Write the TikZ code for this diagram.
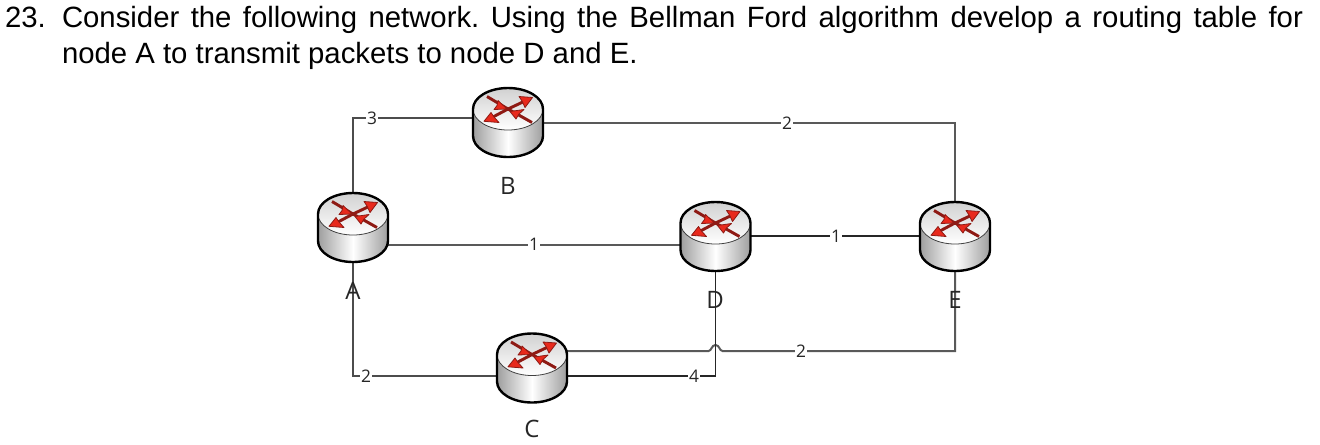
\documentclass[tikz,border=0pt]{standalone}
\usepackage{fontspec}
\usetikzlibrary{calc}
\setmainfont{Liberation Sans}
\newfontfamily\netfont{Open Sans}
\definecolor{rdark}{HTML}{8E1A14}
\definecolor{rred}{HTML}{E8291C}
\frenchspacing
\tikzset{
  x=0.75pt,y=-0.75pt,
  every node/.style={inner sep=0pt,outer sep=0pt},
  titletext/.style={anchor=base west,font=\fontsize{22pt}{24pt}\selectfont,text=black},
  router/.style={minimum width=52.5pt,minimum height=51.75pt,draw=none},
  heavy/.style={draw=black!65,line width=1.5pt},
  medium/.style={draw=black!70,line width=1.2pt},
  thin line/.style={draw=black!85,line width=0.95pt},
  weight/.style={fill=white,font=\netfont\fontsize{13pt}{14pt}\selectfont,text=black!85,inner xsep=0.8pt,inner ysep=0pt},
  routername/.style={font=\netfont\fontsize{18pt}{20pt}\selectfont,text=black!85},
  shaft/.style={draw=rdark,line width=2.2pt},
  head/.style={fill=rred,draw=rdark,line width=0.6pt,line join=round},
  pics/routericon/.style={code={
    \shade[left color=black!38,right color=black!38,middle color=white]
      (-35,-13.5) -- (-35,13.5) arc[start angle=180,end angle=0,x radius=35,y radius=21]
      -- (35,-13.5) -- cycle;
    \shade[top color=black!18,bottom color=white]
      (0,-13.5) ellipse[x radius=35,y radius=21];
    \draw[black!75,line width=0.6pt] (-35,-13.5) arc[start angle=180,end angle=0,x radius=35,y radius=21];
    \draw[black,line width=1.8pt] (-35,-13.5) -- (-35,13.5) arc[start angle=180,end angle=0,x radius=35,y radius=21]
      -- (35,-13.5) arc[start angle=0,end angle=-180,x radius=35,y radius=21] -- cycle;
    \draw[shaft] (-21,-26) -- (0,-13.5);
    \draw[shaft] (0,-13.5) -- (18,-22);
    \draw[shaft] (0,-13.5) -- (-16,-5);
    \draw[shaft] (24,0) -- (0,-13.5);
    \fill[head] (-1,-13.5) -- (-10,-22) -- (-11,-17) -- (-14,-13) -- cycle;
    \fill[head] (24.5,-25) -- (11,-26) -- (14,-21.5) -- (17,-15) -- cycle;
    \fill[head] (-24,-1.2) -- (-17,-10) -- (-14,-5.5) -- (-9,0) -- cycle;
    \fill[head] (2,-11) -- (16,-13) -- (11,-8.5) -- (8,-3.5) -- cycle;
  }},
}
\begin{document}
\begin{tikzpicture}
\useasboundingbox (0,0) rectangle (1320,444);
% title
\node[titletext] (num) at (5,27) {23.};
\node[titletext] (line1) at (62,27) {\makebox[930.75pt][s]{Consider the following network. Using the Bellman Ford algorithm develop a routing table for}};
\node[titletext] (line2) at (62,63.5) {node A to transmit packets to node D and E.};
% routers (placement nodes)
\node[router] (A) at (353,227.5) {};
\node[router] (B) at (508,122.5) {};
\node[router] (C) at (532,368) {};
\node[router] (D) at (715.5,236.5) {};
\node[router] (E) at (955,236.5) {};
% ports
\coordinate (Bw) at (473,118);
\coordinate (Be) at (543,123);
\coordinate (Ae) at (388,244.5);
\coordinate (Dw) at (681,244.5);
\coordinate (De) at (750,236);
\coordinate (Ew) at (921,236);
\coordinate (Cw) at (497,376);
\coordinate (Ceu) at (567,351);
\coordinate (Cel) at (567,376);
\coordinate (hopa) at (708.5,351);
\coordinate (hopb) at (722.5,351);
% connectors
\draw[medium] (A.north) |- (Bw);
\draw[heavy] (Be) -| (E.north);
\draw[heavy] (Ae) -- (Dw);
\draw[thin line] (De) -- (Ew);
\draw[medium] (A.south) |- (Cw);
\draw[heavy] (Ceu) -- (hopa) .. controls ($(hopa)+(3,0)$) and ($(hopa)+(3,-6)$) .. ($(hopa)!0.5!(hopb)+(0,-6)$) .. controls ($(hopb)+(-3,-6)$) and ($(hopb)+(-3,0)$) .. (hopb) -| (E.south);
\draw[thin line] (Cel) -| (D.south);
% router icons
\foreach \n in {A,B,C,D,E} \path (\n.center) pic {routericon};
% edge weights
\node[weight] (w3) at (372,118) {3};
\node[weight] (w2t) at (787,123) {2};
\node[weight] (w1a) at (534,244.5) {1};
\node[weight] (w1d) at (836,236) {1};
\node[weight] (w2c) at (366,376) {2};
\node[weight] (w2b) at (801,351) {2};
\node[weight] (w4) at (694,376) {4};
% router names
\node[routername] (nA) at (353,291) {A};
\node[routername] (nB) at (508,186) {B};
\node[routername] (nC) at (532,429) {C};
\node[routername] (nD) at (715,300) {D};
\node[routername] (nE) at (955,300) {E};
\end{tikzpicture}
\end{document}
